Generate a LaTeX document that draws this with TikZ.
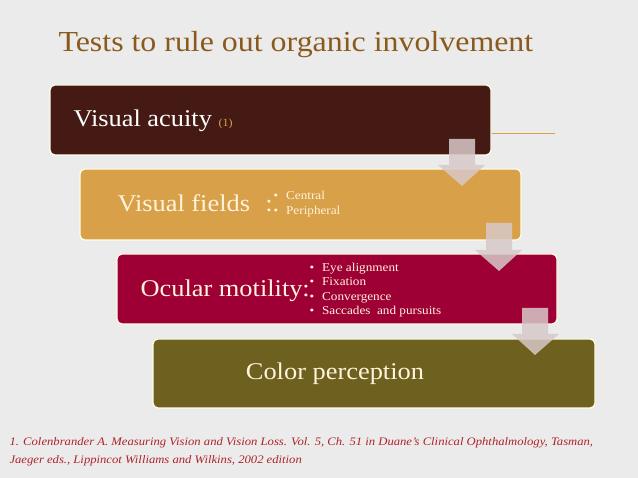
\documentclass[tikz,border=0pt]{standalone}
\usepackage{fontspec}
\setmainfont{Liberation Serif}[FakeStretch=1.1]
\begin{document}
\begin{tikzpicture}[x=1pt,y=-1pt,
  box/.style={draw=white!90!yellow,line width=1.2pt,rounded corners=5pt},
  arr/.style={fill={rgb,255:red,215;green,200;blue,200},fill opacity=0.85,draw=none},
  big/.style={font=\fontsize{24}{26}\selectfont,anchor=base west},
  small/.style={font=\fontsize{12}{14.5}\selectfont,anchor=west,align=left}]
\definecolor{bg}{RGB}{235,235,235}
\definecolor{c1}{RGB}{69,26,20}
\definecolor{c2}{RGB}{217,160,74}
\definecolor{c3}{RGB}{158,0,53}
\definecolor{c4}{RGB}{110,96,30}
\definecolor{ttl}{RGB}{138,90,28}
\definecolor{cream}{RGB}{255,243,220}
\definecolor{fn}{RGB}{176,34,42}
\fill[bg] (0,0) rectangle (638,478);
\draw[c2,line width=1pt] (491,134) -- (555,134);
\node[anchor=base west,text=ttl,font=\fontsize{29}{32}\selectfont] (title) at (55,52) {Tests to rule out organic involvement};
\path[box,fill=c1] (50,85) rectangle (491,155) node[pos=0,inner sep=0] (b1) {};
\path[box,fill=c2] (80,169) rectangle (521,240) node[pos=0,inner sep=0] (b2) {};
\path[box,fill=c3] (117,254) rectangle (557,324) node[pos=0,inner sep=0] (b3) {};
\path[box,fill=c4] (153,339) rectangle (595,408) node[pos=0,inner sep=0] (b4) {};
\node[big,text=white] (t1) at (70,127) {Visual acuity \textcolor{c2}{\fontsize{11}{12}\selectfont(1)}};
\node[big,text=cream] (t2) at (114,212) {Visual fields};
\node[big,text=cream] (t3) at (137,297) {Ocular motility};
\node[big,text=cream,anchor=base] (t4) at (335,380) {Color perception};
\node[text=cream,font=\fontsize{24}{26}\selectfont,anchor=base] (c2c) at (269,212) {:};
\node[text=cream,font=\fontsize{24}{26}\selectfont,anchor=base] (c3c) at (306,297) {:};
\node[small,text=cream] (l2) at (270,204) {•\hspace{8pt}Central\\•\hspace{8pt}Peripheral};
\node[small,text=cream] (l3) at (306,290) {•\hspace{8pt}Eye alignment\\•\hspace{8pt}Fixation\\•\hspace{8pt}Convergence\\•\hspace{8pt}Saccades\ \ and pursuits};
\fill[arr] (449,139) -- (475,139) -- (475,165) -- (485,165) -- (462,186) -- (438,165) -- (449,165) -- cycle;
\fill[arr] (486,223) -- (512,223) -- (512,250) -- (522,250) -- (499,271) -- (475,250) -- (486,250) -- cycle;
\fill[arr] (522,308) -- (548,308) -- (548,334) -- (559,334) -- (535,355) -- (512,334) -- (522,334) -- cycle;
\node[anchor=north west,align=left,text=fn,font=\itshape\fontsize{11.5}{18}\selectfont] (fn) at (6,434) {1. Colenbrander A. Measuring Vision and Vision Loss. Vol. 5, Ch. 51 in Duane’s Clinical Ophthalmology, Tasman,\\Jaeger eds., Lippincot Williams and Wilkins, 2002 edition};
\end{tikzpicture}
\end{document}
